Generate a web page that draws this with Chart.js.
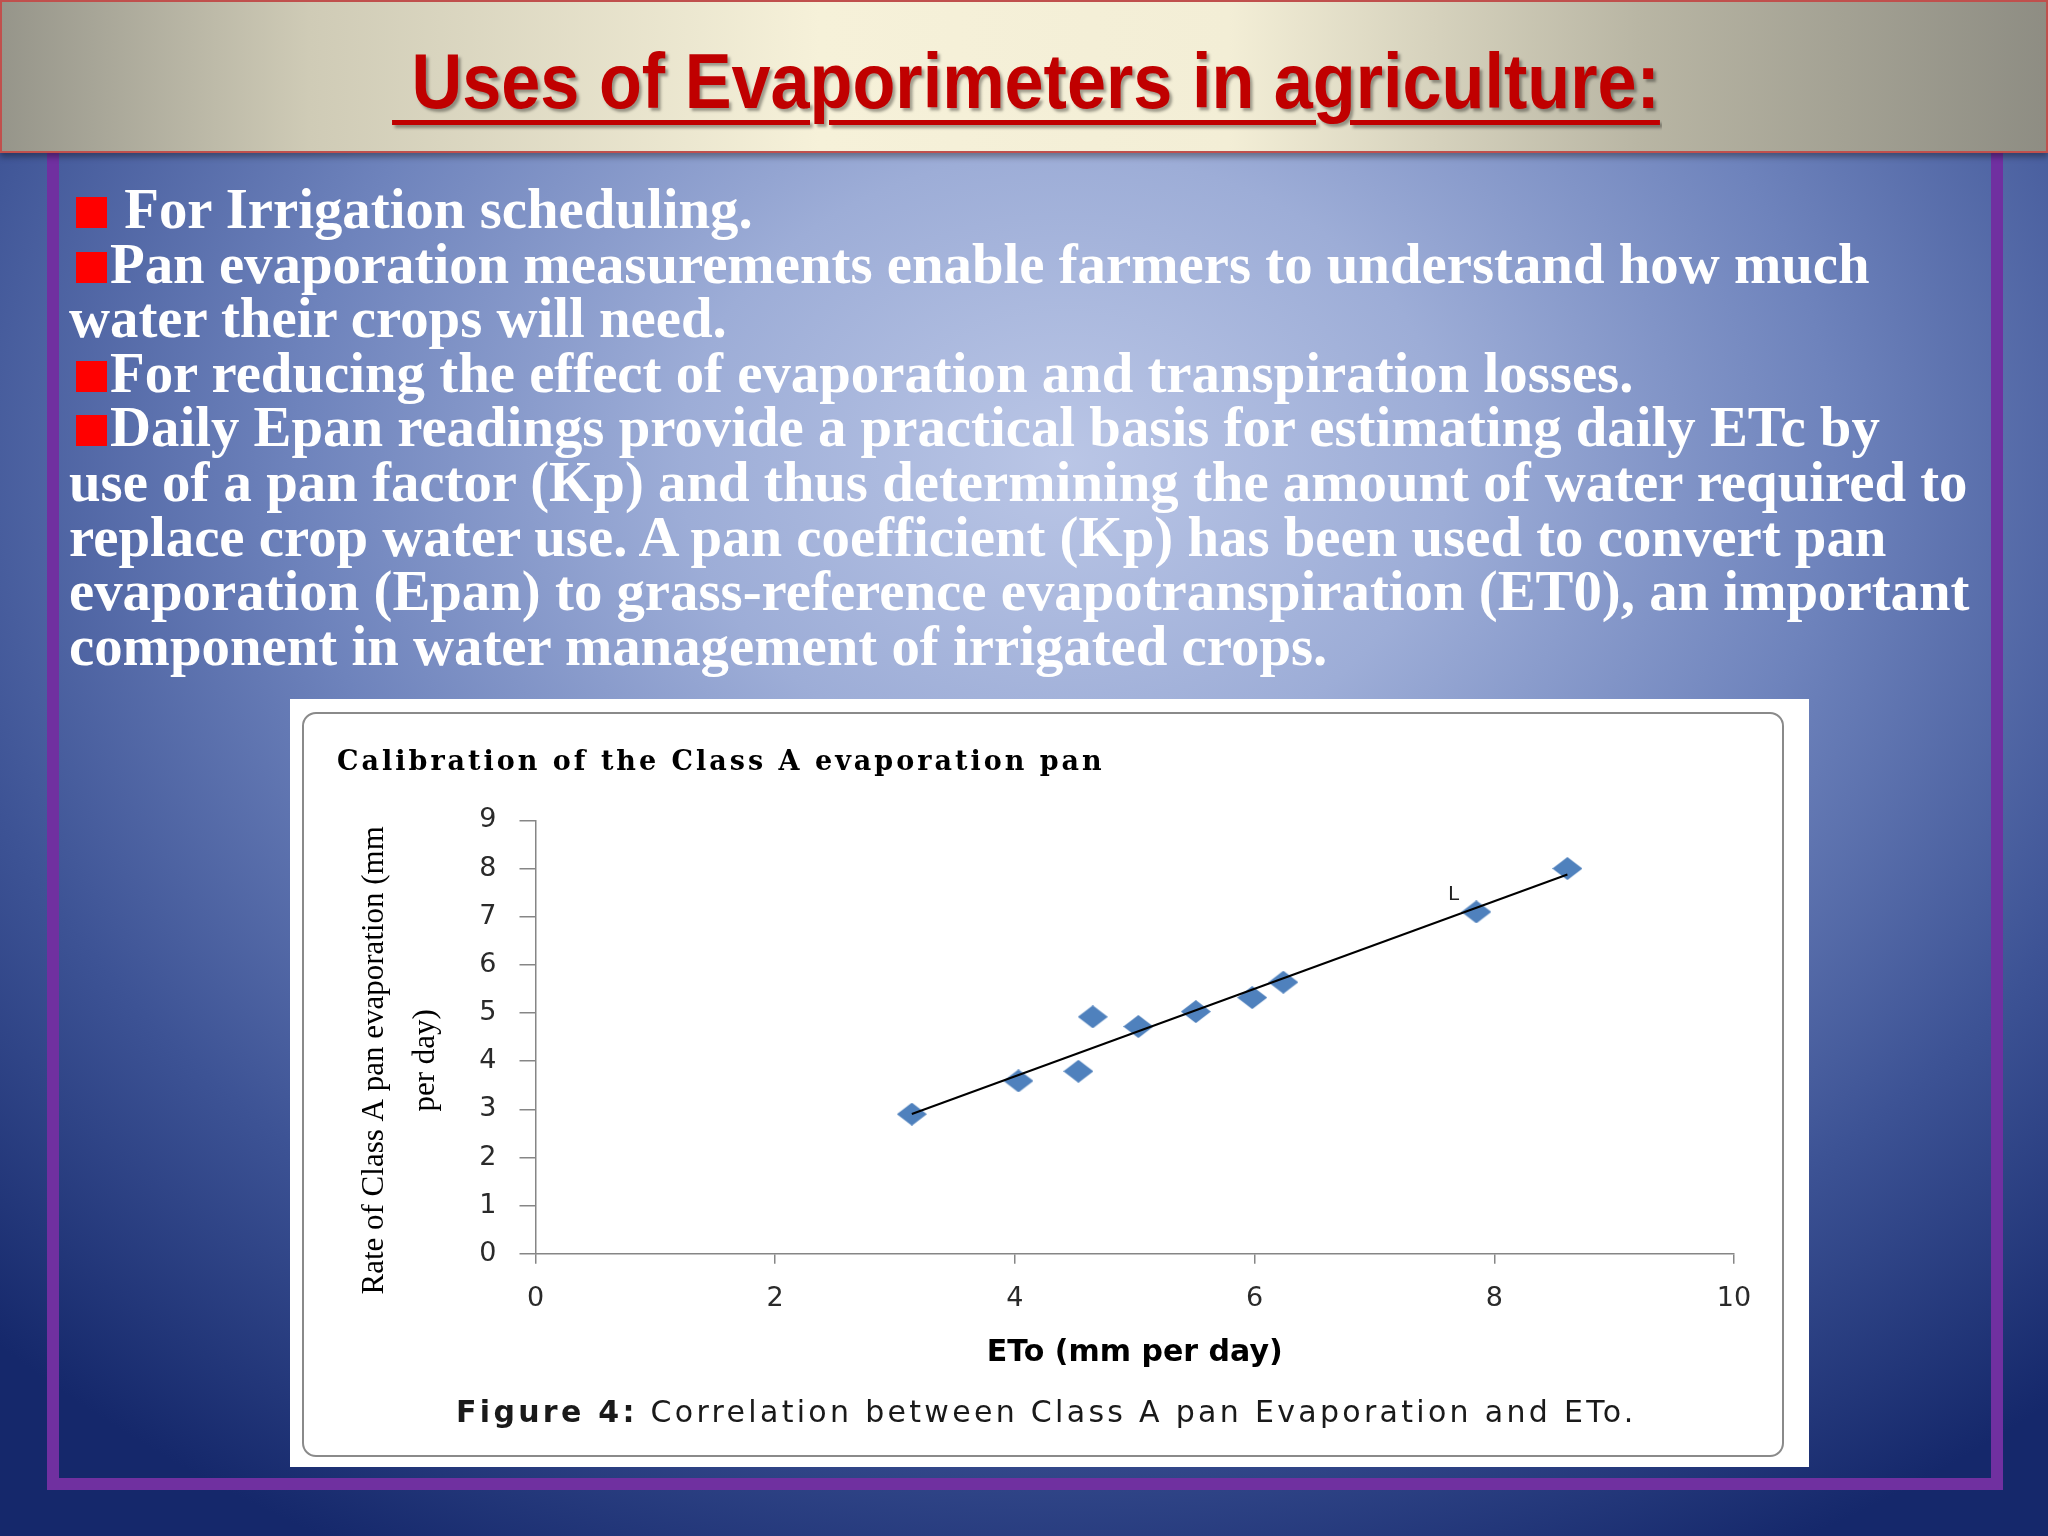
<!DOCTYPE html>
<html>
<head>
<meta charset="utf-8">
<script src="https://cdn.jsdelivr.net/npm/chart.js@4.4.0/dist/chart.umd.min.js"></script>
<style>
  html, body { margin: 0; padding: 0; }
  body {
    width: 2048px; height: 1536px; overflow: hidden; position: relative;
    background: radial-gradient(ellipse 75% 80% at 52% 30%, #bac6e6 0%, #9dadd7 25%, #6e83bc 50%, #3d5395 75%, #15286b 100%);
  }
  #header {
    position: absolute; left: 0; top: 0; width: 2048px; height: 153px; box-sizing: border-box;
    background: linear-gradient(90deg, #96958a 0%, #cfcbb6 15%, #f6f1d9 40%, #f3eed6 60%, #b9b6a4 80%, #8e8d83 100%);
    border: 2px solid #c0504d; box-shadow: 0 4px 6px rgba(0,0,0,0.35); z-index: 3;
  }
  #header h1 {
    position: absolute; left: 0; top: 40px; width: 2048px; margin: 0; text-align: center;
    font-family: 'Liberation Sans', sans-serif; font-weight: bold;
    font-size: 78px; line-height: 78px; color: #c00000;
    transform: scaleX(0.9); transform-origin: 50% 50%;
    text-decoration: underline; text-decoration-thickness: 5px; text-underline-offset: 12px;
    text-shadow: 3px 3px 3px rgba(0,0,0,0.35);
  }
  #frame {
    position: absolute; left: 47px; top: 150px; width: 1956px; height: 1340px; box-sizing: border-box;
    border: 12px solid #7030a0; border-top: none; z-index: 1;
  }
  #body-text {
    position: absolute; left: 69px; top: 182px; z-index: 2;
    font-family: 'Liberation Serif', serif; font-weight: bold; font-size: 56.8px; line-height: 54.6px;
    color: #fff; white-space: nowrap;
  }
  .b { display: inline-block; width: 31px; height: 31px; background: #ff0000; margin-left: 7px; margin-right: 3px; }
  #sheet { position: absolute; left: 290px; top: 699px; width: 1519px; height: 768px; background: #fff; z-index: 2; }
  #box {
    position: absolute; left: 302px; top: 712px; width: 1478px; height: 741px;
    border: 2px solid #8a8a8a; border-radius: 14px; z-index: 3;
  }
  #caption {
    position: absolute; left: 456px; top: 1393px; z-index: 4; white-space: nowrap;
    font-family: 'DejaVu Sans', sans-serif; font-size: 30px; line-height: 38px; letter-spacing: 3.3px; color: #1a1a1a;
  }
</style>
</head>
<body>
<div id="header"><h1>&nbsp;Uses of Evaporimeters in agriculture:</h1></div>
<div id="frame"></div>
<div id="body-text">
  <div><span class="b"></span> For Irrigation scheduling.</div>
  <div><span class="b"></span>Pan evaporation measurements enable farmers to understand how much</div>
  <div>water their crops will need.</div>
  <div><span class="b"></span>For reducing the effect of evaporation and transpiration losses.</div>
  <div><span class="b"></span>Daily Epan readings provide a practical basis for estimating daily ETc by</div>
  <div>use of a pan factor (Kp) and thus determining the amount of water required to</div>
  <div>replace crop water use. A pan coefficient (Kp) has been used to convert pan</div>
  <div>evaporation (Epan) to grass-reference evapotranspiration (ET0), an important</div>
  <div>component in water management of irrigated crops.</div>
</div>
<div id="sheet"></div>
<div id="box"><canvas id="panChart"></canvas></div>
<div id="caption"><b>Figure 4:</b> Correlation between Class A pan Evaporation and ETo.</div>

<script>
// ETo (x) and Class A pan evaporation (y), mm per day
var etoValues = [3.14, 4.03, 4.53, 4.65, 5.03, 5.51, 5.98, 6.24, 7.85, 8.61];
var panValues = [2.90, 3.59, 3.79, 4.92, 4.72, 5.03, 5.32, 5.64, 7.10, 8.00];
var xTicks = [0, 2, 4, 6, 8, 10];
var yTicks = [0, 1, 2, 3, 4, 5, 6, 7, 8, 9];
var trendMark = { text: 'L', x: 7.66, y: 7.46 };

// least squares trend line over the data range
function fitLine(xs, ys) {
    var n = xs.length, mx = 0, my = 0, sxy = 0, sxx = 0;
    for (var i = 0; i < n; i++) { mx += xs[i] / n; my += ys[i] / n; }
    for (var j = 0; j < n; j++) {
        sxy += (xs[j] - mx) * (ys[j] - my);
        sxx += (xs[j] - mx) * (xs[j] - mx);
    }
    var slope = sxy / sxx;
    return { slope: slope, intercept: my - slope * mx };
}

function makeDiamond(w, h, color) {
    var c = document.createElement('canvas');
    c.width = w; c.height = h;
    var g = c.getContext('2d');
    g.fillStyle = color;
    g.beginPath();
    g.moveTo(w / 2, 0); g.lineTo(w, h / 2); g.lineTo(w / 2, h); g.lineTo(0, h / 2);
    g.closePath();
    g.fill();
    return c;
}

var fit = fitLine(etoValues, panValues);
var xLo = Math.min.apply(null, etoValues), xHi = Math.max.apply(null, etoValues);
var trendPoints = [
    { x: xLo, y: fit.intercept + fit.slope * xLo },
    { x: xHi, y: fit.intercept + fit.slope * xHi }
];
var points = etoValues.map(function (v, i) { return { x: v, y: panValues[i] }; });

var axisGray = '#868686';
var pad = '\u00a0\u00a0\u00a0\u00a0\u00a0\u00a0';
var markPlugin = {
    id: 'trendMark',
    afterDatasetsDraw: function (chart) {
        var c = chart.ctx, sx = chart.scales.x, sy = chart.scales.y;
        c.save();
        c.font = '20px "DejaVu Sans"';
        c.fillStyle = '#222';
        c.textAlign = 'center';
        c.textBaseline = 'middle';
        c.fillText(trendMark.text, sx.getPixelForValue(trendMark.x), sy.getPixelForValue(trendMark.y));
        c.restore();
    }
};

var chart = new Chart(document.getElementById('panChart'), {
    type: 'scatter',
    data: {
        datasets: [
            {
                type: 'line',
                data: trendPoints,
                borderColor: '#000',
                borderWidth: 2,
                pointRadius: 0,
                fill: false,
                order: 0
            },
            {
                data: points,
                pointStyle: makeDiamond(30, 23, '#4f81bd'),
                pointRadius: 15,
                order: 1
            }
        ]
    },
    options: {
        responsive: true,
        maintainAspectRatio: false,
        animation: false,
        layout: { padding: { left: 33, right: 48, top: 0, bottom: 0 } },
        plugins: {
            legend: { display: false },
            tooltip: { enabled: false },
            title: {
                display: true,
                text: 'Calibration of the Class A evaporation pan',
                align: 'start',
                color: '#000',
                font: { family: 'DejaVu Serif', size: 27, weight: 'bold' },
                padding: { top: 33, bottom: 41 }
            }
        },
        scales: {
            x: {
                type: 'linear',
                min: xTicks[0],
                max: xTicks[xTicks.length - 1],
                afterBuildTicks: function (s) { s.ticks = xTicks.map(function (v) { return { value: v }; }); },
                afterFit: function (s) { s.height = 201.2; },
                grid: { drawOnChartArea: false, drawTicks: true, tickLength: 10, color: axisGray, lineWidth: 1.5 },
                border: { color: axisGray, width: 1.5 },
                ticks: { color: '#2a2a2a', padding: 19, font: { family: 'DejaVu Sans', size: 27 } },
                title: {
                    display: true,
                    text: 'ETo (mm per day)',
                    color: '#000',
                    font: { family: 'DejaVu Sans', size: 30, weight: 'bold' },
                    padding: { top: 0, bottom: 84 }
                }
            },
            y: {
                type: 'linear',
                min: yTicks[0],
                max: yTicks[yTicks.length - 1],
                afterBuildTicks: function (s) { s.ticks = yTicks.map(function (v) { return { value: v }; }); },
                afterFit: function (s) { s.width = 198.5; },
                grid: { drawOnChartArea: false, drawTicks: true, tickLength: 16, color: axisGray, lineWidth: 1.5 },
                border: { color: axisGray, width: 1.5 },
                ticks: { color: '#2a2a2a', padding: 23, font: { family: 'DejaVu Sans', size: 27 } },
                title: {
                    display: true,
                    text: ['Rate of Class A pan evaporation (mm' + pad, 'per day)' + pad],
                    color: '#000',
                    font: { family: 'Liberation Serif', size: 31, lineHeight: 1.65 },
                    padding: { top: 12, bottom: 0 }
                }
            }
        }
    },
    plugins: [markPlugin]
});

// the figure title is letter-spaced in the original
var titleBlock = chart.titleBlock;
var drawTitle = titleBlock.draw;
titleBlock.draw = function () {
    chart.ctx.save();
    chart.ctx.letterSpacing = '3px';
    drawTitle.apply(this, arguments);
    chart.ctx.restore();
};
chart.draw();
</script>
</body>
</html>
